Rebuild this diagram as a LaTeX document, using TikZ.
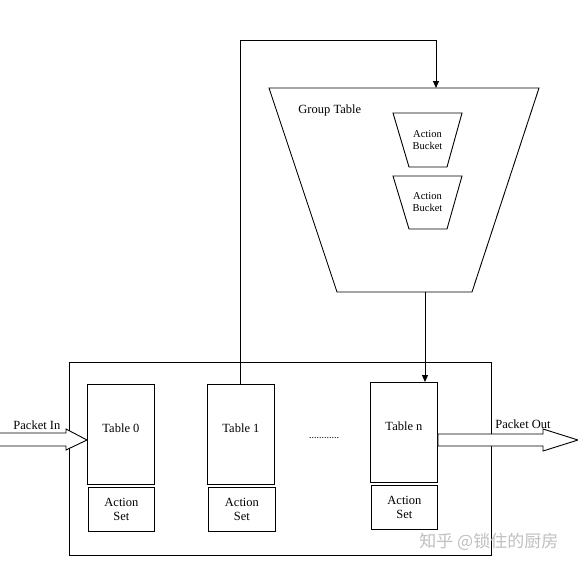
\documentclass[tikz,border=0pt]{standalone}
\usepackage{fontspec}
\setmainfont{Liberation Serif}
\newfontfamily\cjk{Noto Sans CJK SC}
\usetikzlibrary{arrows.meta}
\begin{document}
\begin{tikzpicture}[x=1pt,y=-1pt,
  line width=0.9pt,
  box/.style={draw, rectangle, inner sep=0pt, anchor=north west, align=center, font=\fontsize{12.5}{14.5}\selectfont},
  lbl/.style={font=\fontsize{12.5}{14}\selectfont, inner sep=0pt},
  conn/.style={-{Triangle[length=7pt,width=6pt]}},
  fat/.style={draw, fill=white, line width=0.9pt}]
\useasboundingbox (0,0) rectangle (578,565);

% outer pipeline box
\draw (69,362) rectangle (491,555);

% tables
\node[box, minimum width=67pt, minimum height=100pt] (t0) at (87,384) {};
\node[lbl] (t0l) at ([yshift=6pt]t0.center) {Table 0};
\node[box, minimum width=66pt, minimum height=44pt] (a0) at (88,487) {Action\\Set};
\node[box, minimum width=67pt, minimum height=100pt] (t1) at (207,384) {};
\node[lbl] (t1l) at ([yshift=6pt]t1.center) {Table 1};
\node[box, minimum width=67pt, minimum height=44pt] (a1) at (208,487) {Action\\Set};
\node[box, minimum width=67pt, minimum height=100pt] (tn) at (370,382) {};
\node[lbl] (tnl) at ([yshift=6pt]tn.center) {Table n};
\node[box, minimum width=66pt, minimum height=44pt] (an) at (371,485) {Action\\Set};
\node[lbl, font=\fontsize{10}{12}\selectfont] (dots) at (324,438) {............};

% group table trapezoid
\coordinate (gtl) at (269,88);
\coordinate (gtr) at (539,88);
\coordinate (gbr) at (472,292);
\coordinate (gbl) at (337,292);
\draw (gtl) -- (gtr) -- (gbr) -- (gbl) -- cycle;
\node[lbl, font=\fontsize{12.5}{14}\selectfont, anchor=west] (gt) at (298,110) {Group Table};

% action buckets
\draw (393,113) -- (462,113) -- (447,167) -- (409,167) -- cycle;
\node[lbl, align=center, font=\fontsize{10.5}{12.5}\selectfont] (b1) at (427.5,140) {Action\\Bucket};
\draw (393,176) -- (462,176) -- (447,229) -- (409,229) -- cycle;
\node[lbl, align=center, font=\fontsize{10.5}{12.5}\selectfont] (b2) at (427.5,202) {Action\\Bucket};

% feedback connector from Table 1 to group table
\coordinate (c1) at (240,40);
\coordinate (c2) at (436,40);
\draw[conn] (t1.north -| c1) -- (c1) -- (c2) -- (c2 |- gtl);

% group table to Table n
\coordinate (gout) at (425,292);
\draw[conn] (gout) -- (gout |- tn.north);

% packet in
\draw[fat] (0,433) -- (66,433) -- (66,429) -- (t0.west |- 0,440) -- (66,450) -- (66,446) -- (0,446);
\node[lbl, anchor=south west] (pin) at (13,430) {Packet In};

% packet out
\coordinate (pout) at (578,440);
\draw[fat] (tn.east |- 0,434) -- (543,434) -- (543,429) -- (pout) -- (543,451) -- (543,446) -- (tn.east |- 0,446) -- cycle;
\node[lbl, anchor=south] (pot) at (523,429) {Packet Out};

% watermark
\node[inner sep=0pt, text=black!25, font=\cjk\fontsize{17}{19}\selectfont, anchor=west] (wm) at (419,542) {知乎 @锁住的厨房};
\end{tikzpicture}
\end{document}
